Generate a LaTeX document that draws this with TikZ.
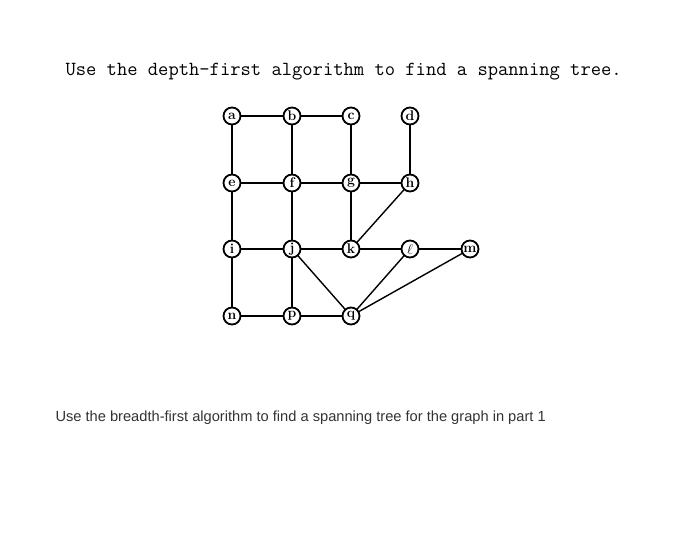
\documentclass[tikz,border=0pt]{standalone}
\usepackage{fontspec}
\newfontfamily\arial{Liberation Sans}
\begin{document}
\begin{tikzpicture}[x=1pt,y=-1pt,
  vert/.style={circle,draw,line width=1.8pt,fill=white,minimum size=17pt,inner sep=0pt,font=\fontsize{14}{14}\selectfont\bfseries},
  edge/.style={line width=1.4pt}]
\useasboundingbox (0,0) rectangle (700,536);
\node[anchor=west,font=\ttfamily\fontsize{20}{20}\selectfont] (title) at (62,72) {Use the depth-first algorithm to find a spanning tree.};
\node[anchor=west,font=\arial\fontsize{14.65}{14.65}\selectfont,text=black!80] (sub) at (52,418) {Use the breadth-first algorithm to find a spanning tree for the graph in part 1};
\foreach \n/\x/\y in {a/232/116,b/292/116,c/351/116,d/410/116,
  e/232/183,f/292/183,g/351/183,h/410/183,
  i/232/249,j/292/249,k/351/249,l/410/249,m/470/249,
  n/232/316,p/292/316,q/351/316}
  \coordinate (\n) at (\x,\y);
\foreach \u/\v in {a/b,b/c,a/e,b/f,c/g,d/h,e/f,f/g,g/h,e/i,f/j,g/k,h/k,i/j,j/k,k/l,l/m,i/n,j/p,j/q,l/q,m/q,n/p,p/q}
  \draw[edge] (\u) -- (\v);
\foreach \n/\t in {a/a,b/b,c/c,d/d,e/e,f/f,g/g,h/h,i/i,j/j,k/k,l/\ensuremath{\ell},m/m,n/n,p/p,q/q}
  \node[vert] (v\n) at (\n) {\t};
\end{tikzpicture}
\end{document}
